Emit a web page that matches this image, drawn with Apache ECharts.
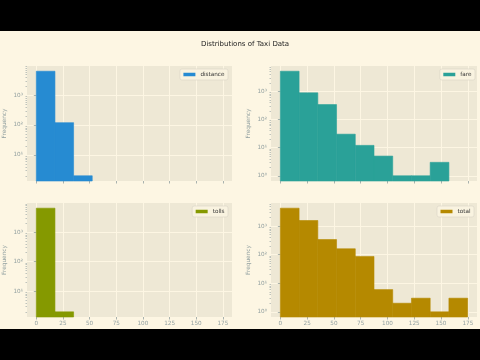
<!DOCTYPE html>
<html><head><meta charset="utf-8">
<script src="https://cdn.jsdelivr.net/npm/echarts@6/dist/echarts.min.js"></script>
<style>html,body{margin:0;padding:0;background:#000;width:480px;height:360px;overflow:hidden}
#c{position:absolute;left:0;top:31px;width:480px;height:298px}</style>
</head><body><div id="c"></div>
<script>
// ---- data ----
const binEdges = [0, 17.482, 34.964, 52.446, 69.928, 87.41, 104.892, 122.374, 139.856, 157.338, 174.82];
const distance = [6311, 120, 2, 0, 0, 0, 0, 0, 0, 0];
const fare     = [5164, 880, 337, 30, 12, 5, 1, 1, 3, 0];
const tolls    = [6431, 2, 0, 0, 0, 0, 0, 0, 0, 0];
const total    = [4256, 1575, 339, 161, 87, 6, 2, 3, 1, 3];
const seriesNames = ['distance', 'fare', 'tolls', 'total'];
const xTicks = [0, 25, 50, 75, 100, 125, 150, 175];
const yMajorTicks = [1, 10, 100, 1000];
const yMinorTicks = [2,3,4,5,6,7,8,9,20,30,40,50,60,70,80,90,200,300,400,500,600,700,800,900,2000,3000,4000,5000,6000,7000,8000,9000];
const titleText = 'Distributions of Taxi Data';
const yLabel = 'Frequency';

// ---- style ----
const colors = ['#268BD2', '#2AA198', '#859900', '#B58900'];
const tickColor = '#93a1a1';
const sup = {'0':'⁰','1':'¹','2':'²','3':'³','4':'⁴'};
const allSeries = [distance, fare, tolls, total];

const xMin = binEdges[0] - 0.05 * (binEdges[10] - binEdges[0]);
const xMax = binEdges[10] + 0.05 * (binEdges[10] - binEdges[0]);

const grids = [
  {left: 26, top: 35, width: 206, height: 115},
  {left: 271, top: 35, width: 206, height: 115},
  {left: 26, top: 172, width: 206, height: 114},
  {left: 271, top: 172, width: 206, height: 114}
];
const legendRight = [252, 5, 252, 6];

function yRange(arr) {
  const pos = arr.filter(v => v > 0);
  const lo = Math.log10(Math.min(...pos)), hi = Math.log10(Math.max(...pos));
  const m = 0.05 * (hi - lo);
  return [Math.pow(10, lo - m), Math.pow(10, hi + m)];
}

function renderItem(params, api) {
  const p0 = api.coord([api.value(0), api.value(2)]);
  const p1 = api.coord([api.value(1), api.value(2)]);
  const cs = params.coordSys;
  const bottom = cs.y + cs.height;
  const st = api.style();
  st.stroke = st.fill; st.lineWidth = 0.6;
  return {type: 'rect', shape: {x: p0[0], y: p0[1], width: p1[0] - p0[0], height: bottom - p0[1]},
    style: st};
}

const xAxis = [], yAxis = [], series = [], legend = [];
allSeries.forEach((arr, i) => {
  const [ymin, ymax] = yRange(arr);
  xAxis.push({
    type: 'value', gridIndex: i, min: xMin, max: xMax,
    axisLine: {show: false},
    axisTick: {show: true, customValues: xTicks, length: 2.5, lineStyle: {color: tickColor, width: 0.8}},
    axisLabel: {show: i >= 2, customValues: xTicks, fontSize: 5.7, color: tickColor, margin: 4, fontFamily: 'DejaVu Sans'},
    splitLine: {show: true, lineStyle: {color: '#fdf6e3', width: 1}}
  });
  yAxis.push({
    type: 'log', logBase: 10, gridIndex: i, min: ymin, max: ymax, position: 'left',
    axisLine: {show: false},
    axisTick: {show: true, customValues: yMajorTicks.filter(v => v >= ymin && v <= ymax), length: 2.5, lineStyle: {color: tickColor, width: 0.8}},
    axisLabel: {customValues: yMajorTicks.filter(v => v >= ymin && v <= ymax), fontSize: 5.7, color: tickColor, margin: 4,
      fontFamily: 'DejaVu Sans',
      formatter: v => '10' + sup[String(Math.round(Math.log10(v)))]},
    splitLine: {show: true, lineStyle: {color: '#fdf6e3', width: 1}},
    name: yLabel, nameLocation: 'middle', nameGap: 20,
    nameTextStyle: {fontSize: 5.8, color: tickColor, fontFamily: 'DejaVu Sans'}
  });
  yAxis.push({
    type: 'log', logBase: 10, gridIndex: i, min: ymin, max: ymax, position: 'left',
    axisLine: {show: false}, axisLabel: {show: false}, splitLine: {show: false},
    axisTick: {show: true, customValues: yMinorTicks.filter(v => v >= ymin && v <= ymax), length: 1.5, lineStyle: {color: tickColor, width: 0.6}}
  });
  const data = [];
  arr.forEach((c, j) => { if (c > 0) data.push([binEdges[j], binEdges[j + 1], c]); });
  series.push({
    type: 'custom', name: seriesNames[i], xAxisIndex: i, yAxisIndex: 2 * i,
    renderItem: renderItem, encode: {x: [0, 1], y: 2}, data: data,
    itemStyle: {color: colors[i]}, silent: true
  });
  legend.push({
    data: [seriesNames[i]], right: legendRight[i], top: grids[i].top + 3,
    icon: 'rect', itemWidth: 12, itemHeight: 3.5, padding: [2.5, 3.5],
    backgroundColor: '#f9f3e0', borderColor: '#d9d4c6', borderWidth: 0.6, borderRadius: 2,
    textStyle: {fontSize: 5.7, color: '#333', fontFamily: 'DejaVu Sans'}
  });
});

const chart = echarts.init(document.getElementById('c'), null, {renderer: 'canvas'});
chart.setOption({
  backgroundColor: '#fdf6e3',
  animation: false,
  title: {text: titleText, left: 201, top: 10, padding: 0,
    textStyle: {fontSize: 7, fontWeight: 'normal', color: '#222', fontFamily: 'DejaVu Sans'}},
  grid: grids.map(g => Object.assign({backgroundColor: '#eee8d5', show: true, borderWidth: 0}, g)),
  xAxis, yAxis, series, legend
});
</script></body></html>
